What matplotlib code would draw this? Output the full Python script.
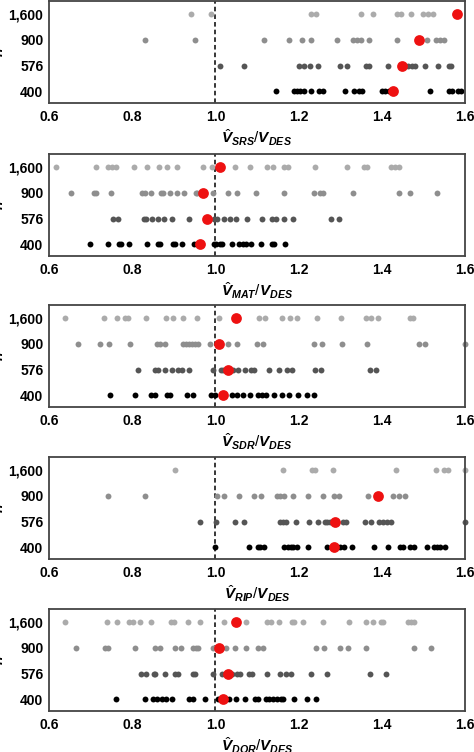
import matplotlib
matplotlib.use("Agg")
import matplotlib.pyplot as plt
from matplotlib.ticker import FixedLocator

n_labels = ["400", "576", "900", "1,600"]
colors = ["#000000", "#555555", "#8e8e8e", "#ababab"]

srs = {
 "1,600": [0.942,0.99,1.229,1.242,1.349,1.378,1.437,1.447,1.469,1.499,1.511,1.523,1.575],
 "900": [0.83,0.95,1.117,1.178,1.207,1.231,1.293,1.33,1.34,1.35,1.369,1.437,1.509,1.53,1.54,1.55],
 "576": [1.011,1.068,1.202,1.213,1.227,1.247,1.299,1.317,1.361,1.37,1.414,1.462,1.472,1.48,1.504,1.534,1.561,1.566],
 "400": [1.145,1.188,1.197,1.203,1.213,1.231,1.249,1.258,1.312,1.332,1.345,1.353,1.4,1.407,1.418,1.515,1.561,1.568,1.582,1.59],
}
srs_mean = [1.427, 1.449, 1.49, 1.581]

mat = {
 "1,600": [0.617,0.712,0.741,0.752,0.762,0.805,0.836,0.865,0.884,0.908,0.969,0.993,1.048,1.084,1.125,1.139,1.166,1.174,1.239,1.316,1.358,1.365,1.423,1.431,1.442],
 "900": [0.653,0.707,0.712,0.749,0.823,0.83,0.844,0.87,0.873,0.892,0.908,0.924,0.953,0.956,0.994,1.03,1.051,1.098,1.166,1.237,1.251,1.259,1.331,1.441,1.467,1.532],
 "576": [0.755,0.767,0.828,0.834,0.848,0.863,0.876,0.896,0.937,0.997,1.004,1.02,1.036,1.049,1.075,1.112,1.137,1.145,1.165,1.187,1.278,1.296],
 "400": [0.699,0.743,0.768,0.772,0.792,0.836,0.863,0.867,0.899,0.903,0.92,0.948,0.996,1.002,1.01,1.017,1.041,1.056,1.067,1.074,1.086,1.109,1.135,1.142,1.168],
}
mat_mean = [0.962, 0.981, 0.969, 1.01]

sdr = {
 "1,600": [0.639,0.733,0.764,0.783,0.79,0.834,0.881,0.898,0.921,0.955,1.009,1.104,1.119,1.161,1.179,1.196,1.245,1.302,1.362,1.374,1.391,1.467,1.475],
 "900": [0.669,0.722,0.744,0.794,0.859,0.866,0.879,0.923,0.929,0.936,0.943,0.95,0.957,0.988,1.03,1.051,1.1,1.115,1.238,1.256,1.305,1.365,1.49,1.505,1.6],
 "576": [0.815,0.856,0.863,0.879,0.895,0.91,0.919,0.937,0.994,1.013,1.018,1.028,1.043,1.055,1.07,1.086,1.093,1.13,1.154,1.173,1.183,1.239,1.254,1.372,1.386],
 "400": [0.746,0.806,0.845,0.854,0.884,0.892,0.932,0.946,0.99,0.998,1.04,1.053,1.066,1.082,1.103,1.112,1.122,1.141,1.161,1.178,1.198,1.219,1.237],
}
sdr_mean = [1.018, 1.031, 1.009, 1.049]

rip = {
 "1,600": [0.903,1.163,1.232,1.239,1.283,1.433,1.53,1.549,1.558,1.6],
 "900": [0.741,0.831,1.004,1.02,1.057,1.093,1.11,1.147,1.155,1.166,1.187,1.222,1.258,1.285,1.296,1.368,1.426,1.442,1.455],
 "576": [0.964,1.001,1.047,1.068,1.155,1.163,1.169,1.194,1.225,1.247,1.263,1.269,1.275,1.307,1.314,1.36,1.373,1.394,1.402,1.412,1.422,1.6],
 "400": [1.0,1.08,1.102,1.108,1.116,1.166,1.174,1.181,1.186,1.197,1.222,1.269,1.3,1.31,1.329,1.382,1.414,1.444,1.451,1.467,1.478,1.508,1.525,1.532,1.541,1.551],
}
rip_mean = [1.284, 1.288, 1.39, None]

dor = {
 "1,600": [0.639,0.74,0.764,0.793,0.802,0.819,0.845,0.894,0.9,0.934,0.963,1.02,1.074,1.124,1.133,1.154,1.183,1.19,1.21,1.259,1.32,1.361,1.379,1.398,1.403,1.463,1.47,1.478],
 "900": [0.664,0.734,0.741,0.807,0.855,0.868,0.903,0.917,0.946,0.953,0.959,0.994,1.025,1.047,1.073,1.102,1.115,1.242,1.262,1.3,1.318,1.361,1.478,1.518],
 "576": [0.822,0.832,0.852,0.856,0.878,0.902,0.91,0.945,0.95,0.994,1.016,1.039,1.053,1.06,1.081,1.089,1.123,1.155,1.169,1.182,1.229,1.269,1.372,1.409],
 "400": [0.76,0.83,0.849,0.859,0.871,0.881,0.896,0.937,0.946,0.975,1.007,1.032,1.05,1.071,1.095,1.102,1.122,1.13,1.139,1.147,1.157,1.163,1.19,1.22,1.242],
}
dor_mean = [1.018, 1.03, 1.009, 1.049]

panels = [
 (srs, srs_mean, r"$\hat{\mathbfit{V}}_{\mathbfit{SRS}}/\mathbfit{V}_{\mathbfit{DES}}$"),
 (mat, mat_mean, r"$\hat{\mathbfit{V}}_{\mathbfit{MAT}}/\mathbfit{V}_{\mathbfit{DES}}$"),
 (sdr, sdr_mean, r"$\hat{\mathbfit{V}}_{\mathbfit{SDR}}/\mathbfit{V}_{\mathbfit{DES}}$"),
 (rip, rip_mean, r"$\hat{\mathbfit{V}}_{\mathbfit{RIP}}/\mathbfit{V}_{\mathbfit{DES}}$"),
 (dor, dor_mean, r"$\hat{\mathbfit{V}}_{\mathbfit{DOR}}/\mathbfit{V}_{\mathbfit{DES}}$"),
]

plt.rcParams["font.family"] = ["Liberation Sans", "DejaVu Sans"]
plt.rcParams["mathtext.fontset"] = "custom"
plt.rcParams["mathtext.it"] = "Liberation Sans:italic"
plt.rcParams["mathtext.bf"] = "Liberation Sans:bold"
plt.rcParams["mathtext.bfit"] = "Liberation Sans:bold:italic"
plt.rcParams["mathtext.rm"] = "Liberation Sans"

fig = plt.figure(figsize=(4.74, 7.52), dpi=100)
W, H = 474, 752
tops = [1, 154, 305, 457, 609]
left, right = 49, 465
ph = 102
for (data, means, xl), top in zip(panels, tops):
    ax = fig.add_axes([left / W, 1 - (top + ph) / H, (right - left) / W, ph / H])
    for i, lab in enumerate(n_labels):
        xs = data[lab]
        ax.scatter(xs, [i] * len(xs), s=18, color=colors[i], lw=0, zorder=2, clip_on=False)
        if means[i] is not None:
            ax.scatter([means[i]], [i], s=60, color="#ee1111", lw=0, zorder=3, clip_on=False)
    ax.axvline(1.0, color="black", ls=(0, (3, 2)), lw=1.1, zorder=1)
    ax.set_xlim(0.6, 1.6)
    ax.set_ylim(-0.45, 3.5)
    ax.set_yticks(range(4))
    ax.set_yticklabels(n_labels)
    ax.xaxis.set_major_locator(FixedLocator([0.6, 0.8, 1.0, 1.2, 1.4, 1.6]))
    ax.set_xticklabels(["0.6", "0.8", "1.0", "1.2", "1.4", "1.6"])
    ax.tick_params(axis="x", length=0, labelsize=10, pad=5)
    ax.tick_params(axis="y", length=0, labelsize=10, pad=4)
    for t in ax.get_xticklabels() + ax.get_yticklabels():
        t.set_fontweight("bold")
    for s in ax.spines.values():
        s.set_color("#444444")
        s.set_linewidth(1.3)
    ax.set_xlabel(xl, fontsize=11, labelpad=3)
    ax.set_ylabel("n", fontsize=10, fontstyle="italic", fontweight="bold")
    ax.yaxis.set_label_coords(-0.105, 0.5)

fig.savefig("out.png", dpi=100)
